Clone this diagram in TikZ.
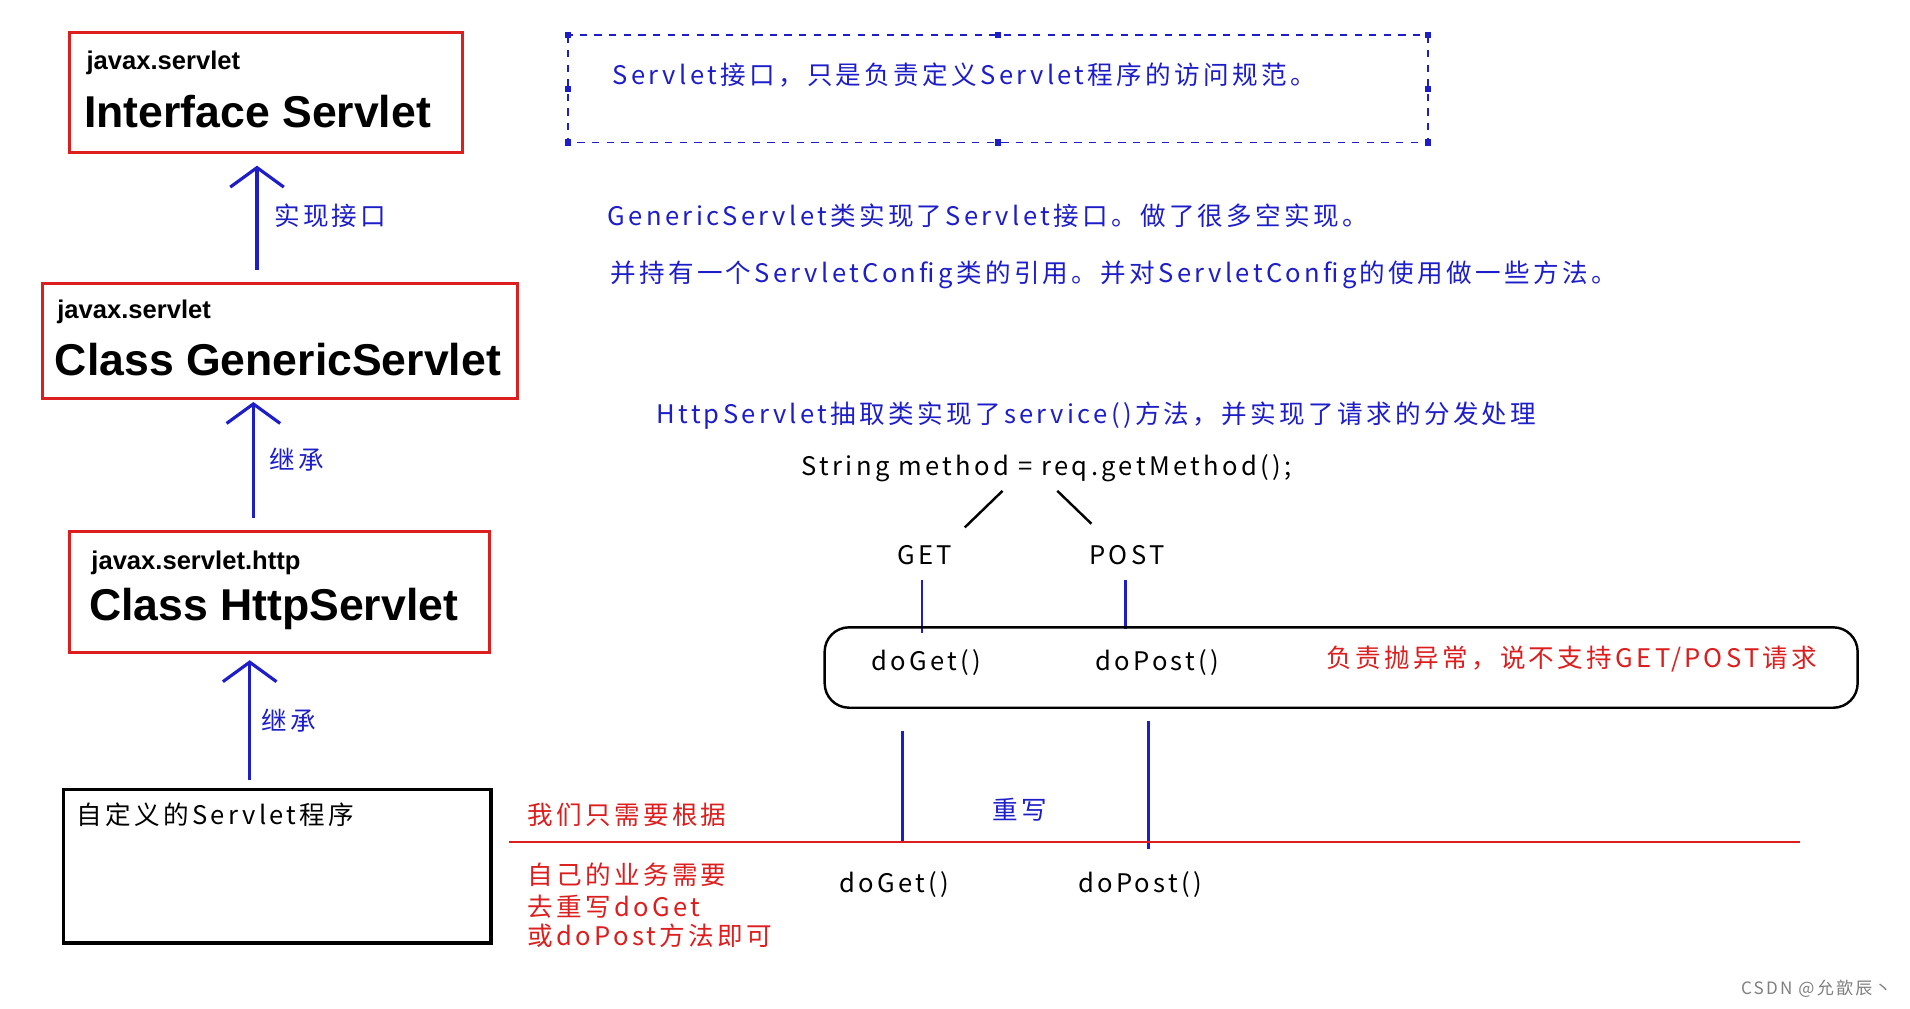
\documentclass[tikz,border=0pt]{standalone}
\usepackage{fontspec}
\setmainfont{Liberation Sans}
\newfontfamily\cjk[LetterSpace=13]{Noto Sans CJK SC}
\usetikzlibrary{arrows.meta}
\definecolor{tblue}{RGB}{30,30,200}
\definecolor{tred}{RGB}{220,30,30}
\begin{document}
\begin{tikzpicture}[x=0.5pt,y=-0.5pt,
  small/.style={anchor=west,font=\fontsize{10.5}{12}\selectfont\bfseries},
  big/.style={anchor=west,font=\fontsize{18.3}{20}\selectfont\bfseries},
  btxt/.style={anchor=west,text=tblue,font=\cjk\fontsize{10.5}{12}\selectfont},
  rtxt/.style={anchor=west,text=tred,font=\cjk\fontsize{10.5}{12}\selectfont},
  ktxt/.style={anchor=west,font=\cjk\fontsize{10.5}{12}\selectfont},
  up/.style={draw=tblue,line width=1.3pt,-{Straight Barb[length=8pt,width=22pt,line width=1.3pt]}},
  bl/.style={draw=tblue,line width=1pt}]
\useasboundingbox[fill=white] (0,0) rectangle (1568,828);
% class boxes
\draw[draw=tred,line width=1.2pt] (57,27) rectangle (380,125);
\node[small] (p1) at (64,52) {javax.servlet};
\node[big] (c1) at (62,92) {Interface Servlet};
\draw[draw=tred,line width=1.2pt] (35,233) rectangle (425,327);
\node[small] (p2) at (40,256) {javax.servlet};
\node[big] (c2) at (38,295) {Class GenericServlet};
\draw[draw=tred,line width=1.2pt] (57,436) rectangle (402,536);
\node[small] (p3) at (68,462) {javax.servlet.http};
\node[big] (c3) at (66,500) {Class HttpServlet};
\draw[line width=1.5pt] (52,648) rectangle (403,774);
\node[ktxt] (own) at (56,669) {自定义的Servlet程序};
% arrows
\coordinate (a1s) at (211,222); \coordinate (a1e) at (211,136);
\draw[up] (a1s) -- (a1e);
\node[btxt] (l1) at (218,177) {实现接口};
\coordinate (a2s) at (208,425); \coordinate (a2e) at (208,330);
\draw[up] (a2s) -- (a2e);
\node[btxt] (l2) at (214,377) {继承};
\coordinate (a3s) at (205,640); \coordinate (a3e) at (205,542);
\draw[up] (a3s) -- (a3e);
\node[btxt] (l3) at (208,592) {继承};
% dashed box
\draw[tblue,dashed,line width=0.8pt] (466,29) rectangle (1172,117);
\foreach \p in {(466,29),(819,29),(1172,29),(466,73),(1172,73),(466,117),(819,117),(1172,117)}
  \fill[tblue] \p +(-2.5,-2.5) rectangle +(2.5,2.5);
\node[btxt] (t1) at (496,62) {Servlet接口，只是负责定义Servlet程序的访问规范。};
\node[btxt] (t2) at (492,177) {GenericServlet类实现了Servlet接口。做了很多空实现。};
\node[btxt] (t3) at (494,226) {并持有一个ServletConfig类的引用。并对ServletConfig的使用做一些方法。};
\node[btxt] (t4) at (532,341) {HttpServlet抽取类实现了service()方法，并实现了请求的分发处理};
\node[ktxt] (t5) at (651,384) {String method = req.getMethod();};
\draw[line width=1pt] (823,403) -- (792,433);
\draw[line width=1pt] (868,403) -- (896,430);
\node[ktxt,anchor=center] (get) at (759,456) {GET};
\node[ktxt,anchor=center] (post) at (925,456) {POST};
\draw[bl] (757,476) -- (757,520);
\draw[bl] (924,476) -- (924,516);
\draw[line width=1pt,rounded corners=10pt] (677,515) rectangle (1525,581);
\node[ktxt] (dg1) at (708,544) {doGet()};
\node[ktxt] (dp1) at (892,544) {doPost()};
\node[rtxt] (ex) at (1082,541) {负责抛异常，说不支持GET/POST请求};
\draw[bl] (741,600) -- (741,692);
\draw[bl] (943,592) -- (943,697);
\draw[tred,line width=1pt] (418,691) -- (1478,691);
\node[rtxt] (r1) at (426,669) {我们只需要根据};
\node[btxt] (ow) at (808,665) {重写};
\node[rtxt] (r2) at (426,718) {自己的业务需要};
\node[rtxt] (r3) at (426,744) {去重写doGet};
\node[rtxt] (r4) at (426,768) {或doPost方法即可};
\node[ktxt] (dg2) at (682,726) {doGet()};
\node[ktxt] (dp2) at (878,726) {doPost()};
\node[anchor=east,text=gray,font=\cjk\fontsize{7}{8}\selectfont] (wm) at (1560,812) {CSDN @允歆辰丶};
\end{tikzpicture}
\end{document}
